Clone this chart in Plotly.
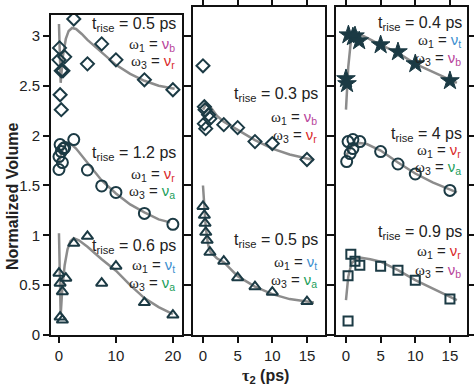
import plotly.graph_objects as go

# ---------------- data ----------------
# Left panel
L_dia_t = [0.1, 0.0, 1.0, 0.4, 0.7, 0.2, 0.4, 2.6, 5, 7.5, 10, 15, 20]
L_dia_v = [2.88, 2.76, 2.79, 2.65, 2.65, 2.41, 2.26, 3.17, 2.72, 2.92, 2.76, 2.56, 2.46]
L_dia_fit_t = [0, 0.3, 0.7, 1.2, 1.7, 2.3, 3.0, 4.0, 5.0, 7.5, 10, 12.5, 15, 17.5, 20.3]
L_dia_fit_v = [3.12, 2.53, 2.80, 2.97, 3.05, 3.08, 3.07, 3.02, 2.96, 2.83, 2.71, 2.62, 2.55, 2.50, 2.47]

L_cir_t = [0, 0, 0.2, 0.4, 0.6, 0.8, 1.0, 2.6, 5, 7.5, 10, 15, 20]
L_cir_v = [1.79, 1.66, 1.91, 1.84, 1.73, 1.87, 1.88, 1.96, 1.655, 1.495, 1.43, 1.22, 1.11]
L_cir_fit_t = [0, 0.3, 0.7, 1.3, 2.0, 3.0, 4.0, 5.0, 7.5, 10, 12.5, 15, 17.5, 19.5]
L_cir_fit_v = [1.74, 1.79, 1.87, 1.93, 1.92, 1.87, 1.80, 1.73, 1.55, 1.42, 1.31, 1.23, 1.16, 1.13]

L_tri_t = [0, 1.2, 0.2, 0.6, 0.2, 0.6, 2.6, 5, 7.5, 10, 15, 20]
L_tri_v = [0.62, 0.57, 0.52, 0.435, 0.18, 0.15, 0.92, 0.99, 0.52, 0.69, 0.325, 0.20]
L_tri_fit_t = [0, 0.15, 0.3, 0.6, 1.0, 1.5, 2.0, 2.6, 3.5, 5, 7.5, 10, 12.5, 15, 17.5, 20]
L_tri_fit_v = [1.02, 0.55, 0.20, 0.48, 0.70, 0.86, 0.94, 0.97, 0.95, 0.885, 0.76, 0.645, 0.50, 0.37, 0.28, 0.21]

# Middle panel
M_dia_t = [0, 0.2, 0.3, 0.8, 1.0, 0.4, 0.2, 3, 5, 7.5, 10, 15]
M_dia_v = [2.70, 2.29, 2.26, 2.21, 2.17, 2.07, 2.12, 2.11, 2.08, 1.94, 1.92, 1.76]
M_dia_fit_t = [0, 0.5, 1.25, 2, 3, 5, 7.5, 10, 12.5, 15, 16]
M_dia_fit_v = [2.26, 2.32, 2.27, 2.20, 2.14, 2.06, 1.955, 1.87, 1.81, 1.77, 1.755]

M_tri_t = [0, 0.2, 0.3, 0.4, 0.6, 1.0, 3, 5, 7.5, 10, 15]
M_tri_v = [1.29, 1.20, 1.12, 1.03, 0.95, 0.83, 0.74, 0.575, 0.485, 0.43, 0.335]
M_tri_fit_t = [0, 0.2, 0.4, 0.7, 1.0, 2.0, 3.0, 5, 7.5, 10, 12.5, 15, 16]
M_tri_fit_v = [1.50, 1.28, 1.08, 0.92, 0.84, 0.77, 0.73, 0.59, 0.485, 0.41, 0.36, 0.335, 0.325]

# Right panel
R_star_t = [0, 0.15, 0.35, 1.0, 1.3, 1.9, 5, 7.5, 10, 15]
R_star_v = [2.57, 2.52, 3.01, 2.99, 3.00, 2.95, 2.91, 2.84, 2.72, 2.55]
R_star_fit_t = [0, 0.33, 0.68, 1.0, 1.5, 2.5, 5, 7.5, 10, 12.5, 15, 16]
R_star_fit_v = [2.26, 2.69, 2.93, 2.99, 3.02, 3.00, 2.91, 2.83, 2.72, 2.64, 2.56, 2.53]

R_cir_t = [0.1, 0.6, 1.0, 0.3, 1.0, 2.0, 5, 7.5, 10, 15]
R_cir_v = [1.74, 1.82, 1.87, 1.94, 1.96, 1.94, 1.84, 1.715, 1.615, 1.45]
R_cir_fit_t = [0, 0.5, 1, 2, 3, 5, 7.5, 10, 12.5, 15, 16]
R_cir_fit_v = [1.79, 1.86, 1.90, 1.925, 1.915, 1.85, 1.73, 1.62, 1.53, 1.455, 1.43]

R_sq_t = [0.3, 0.7, 1.3, 2.0, 5, 7.5, 10, 15, 0.3]
R_sq_v = [0.595, 0.81, 0.74, 0.70, 0.69, 0.65, 0.55, 0.36, 0.14]
R_sq_fit_t = [0, 0.33, 0.8, 1.5, 2.2, 3.5, 5, 7.5, 10, 12.5, 15, 16]
R_sq_fit_v = [0.35, 0.585, 0.72, 0.765, 0.775, 0.76, 0.735, 0.65, 0.55, 0.465, 0.38, 0.35]

y_ticks = [0, 0.5, 1, 1.5, 2, 2.5, 3]
y_tick_labels = ["0", "0.5", "1", "1.5", "2", "2.5", "3"]
x_ticks_left = [0, 10, 20]
x_ticks_other = [0, 5, 10, 15]

# annotations: (panel, t_rise label, omega1 freq, omega3 freq, y-pixel rows)
labels = [
    ("L", "0.5", "b", "r", (21, 41, 58)),
    ("L", "1.2", "r", "a", (151, 171, 188)),
    ("L", "0.6", "t", "a", (243, 262, 280)),
    ("M", "0.3", "b", "r", (91, 115, 132)),
    ("M", "0.5", "t", "a", (237, 259, 277)),
    ("R", "0.4", "t", "b", (20, 38, 55)),
    ("R", "4", "r", "a", (131, 147, 164)),
    ("R", "0.9", "r", "b", (230, 248, 267)),
]

# ---------------- styling ----------------
MK = "#1b3a44"
FIT = "#8c8c8c"
NU_COL = {"b": "#b8449b", "r": "#d92a2a", "t": "#3b8fcf", "a": "#1b9e5a"}
FONT = "Liberation Sans, Arial, sans-serif"
SERIF = "Liberation Serif"

W, H = 474, 386
ML, MR, MT, MB = 51, 7, 7, 51
PW, PH = W - ML - MR, H - MT - MB

def px2x(px):
    return (px - ML) / PW

def py2y(py):
    return (H - MB - py) / PH

fig = go.Figure()

def add_series(t, v, ft, fv, sym, size, xa, ya, filled=False):
    fig.add_trace(go.Scatter(x=ft, y=fv, mode="lines", xaxis=xa, yaxis=ya,
                             line=dict(color=FIT, width=2.5), showlegend=False,
                             hoverinfo="skip"))
    fig.add_trace(go.Scatter(x=t, y=v, mode="markers", xaxis=xa, yaxis=ya,
                             marker=dict(symbol=sym, size=size, color=MK,
                                         line=dict(color=MK, width=2 if not filled else 1)),
                             showlegend=False))

add_series(L_dia_t, L_dia_v, L_dia_fit_t, L_dia_fit_v, "diamond-open", 10, "x", "y")
add_series(L_cir_t, L_cir_v, L_cir_fit_t, L_cir_fit_v, "circle-open", 11, "x", "y")
add_series(L_tri_t, L_tri_v, L_tri_fit_t, L_tri_fit_v, "triangle-up-open", 10, "x", "y")
add_series(M_dia_t, M_dia_v, M_dia_fit_t, M_dia_fit_v, "diamond-open", 10, "x2", "y2")
add_series(M_tri_t, M_tri_v, M_tri_fit_t, M_tri_fit_v, "triangle-up-open", 10, "x2", "y2")
add_series(R_star_t, R_star_v, R_star_fit_t, R_star_fit_v, "star", 14, "x3", "y3", filled=True)
add_series(R_cir_t, R_cir_v, R_cir_fit_t, R_cir_fit_v, "circle-open", 11, "x3", "y3")
add_series(R_sq_t, R_sq_v, R_sq_fit_t, R_sq_fit_v, "square-open", 9, "x3", "y3")

dom_L = [px2x(51), px2x(182)]
dom_M = [px2x(193), px2x(325)]
dom_R = [px2x(336), px2x(467)]

axis_common = dict(showline=True, linecolor="#111", linewidth=2, ticks="outside",
                   tickcolor="#111", tickwidth=2, ticklen=6, showgrid=False,
                   zeroline=False, automargin=False,
                   tickfont=dict(family=FONT, size=15, color="#222"))

fig.update_layout(
    width=W, height=H, margin=dict(l=ML, r=MR, t=MT, b=MB, autoexpand=False),
    paper_bgcolor="white", plot_bgcolor="white",
    font=dict(family=FONT, color="#222"),
    xaxis=dict(domain=dom_L, range=[-1.4, 21.6], tickvals=x_ticks_left, anchor="y",
               mirror=True, **axis_common),
    xaxis4=dict(overlaying="x", side="top", anchor="y", range=[-1.4, 21.6],
                tickvals=x_ticks_left, showticklabels=False, ticks="outside",
                ticklen=15, tickwidth=2, tickcolor="#111", showgrid=False,
                zeroline=False, showline=False, automargin=False),
    xaxis2=dict(domain=dom_M, range=[-1.44, 17.6], tickvals=x_ticks_other, anchor="y2",
                mirror="allticks", **axis_common),
    xaxis3=dict(domain=dom_R, range=[-1.44, 17.46], tickvals=x_ticks_other, anchor="y3",
                mirror="allticks", **axis_common),
    yaxis=dict(domain=[0, py2y(15)], range=[0, 3.21], tickvals=y_ticks,
               ticktext=y_tick_labels, anchor="x", mirror="allticks", **axis_common),
    yaxis2=dict(domain=[0, 1], range=[0, 3.29], tickvals=y_ticks, anchor="x2",
                showticklabels=False, mirror="allticks", **axis_common),
    yaxis3=dict(domain=[0, 1], range=[0, 3.29], tickvals=y_ticks, anchor="x3",
                showticklabels=False, mirror="allticks", **axis_common),
)

right_edge = {"L": 178, "M": 320, "R": 464}
anns = []
for panel, tr, w1, w3, rows in labels:
    xr = px2x(right_edge[panel])
    anns.append(dict(xref="paper", yref="paper", x=xr, y=py2y(rows[0] + 3),
                     xanchor="right", yanchor="middle", showarrow=False,
                     text="t<sub>rise</sub> = %s ps" % tr,
                     font=dict(family=FONT, size=16, color="#222")))
    for k, (num, nu) in enumerate([("1", w1), ("3", w3)]):
        c = NU_COL[nu]
        txt = ('<span style="font-family:%s">ω</span><sub>%s</sub> = '
               '<span style="color:%s">ν</span><sub><span style="color:%s">%s</span></sub>'
               % (SERIF, num, c, c, nu))
        anns.append(dict(xref="paper", yref="paper", x=px2x(right_edge[panel] - 1),
                         y=py2y(rows[k + 1] + 3), xanchor="right", yanchor="middle",
                         showarrow=False, text=txt,
                         font=dict(family=FONT, size=15, color="#222")))

anns.append(dict(xref="paper", yref="paper", x=px2x(12), y=py2y(197),
                 text="<b>Normalized Volume</b>", textangle=-90, showarrow=False,
                 xanchor="center", yanchor="middle",
                 font=dict(family=FONT, size=16, color="#222")))
anns.append(dict(xref="paper", yref="paper", x=px2x(265), y=py2y(377),
                 text='<b><span style="font-family:%s">τ</span><sub>2</sub> (ps)</b>' % SERIF,
                 showarrow=False, xanchor="center", yanchor="middle",
                 font=dict(family=FONT, size=16, color="#222")))
fig.update_layout(annotations=anns)

fig.write_html("out.html", config={"displayModeBar": False},
               post_script="document.body.style.margin='0px';document.body.style.padding='0px';")
